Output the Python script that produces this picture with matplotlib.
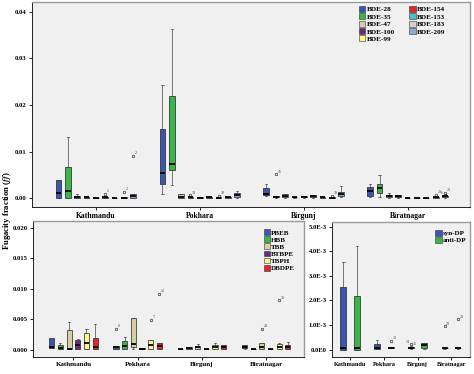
import matplotlib
matplotlib.use("Agg")
import matplotlib.pyplot as plt
from matplotlib.patches import Patch

plt.rcParams["font.family"] = ["Liberation Serif", "DejaVu Serif"]
plt.rcParams["font.weight"] = "bold"
plt.rcParams["mathtext.fontset"] = "stix"

SITES = ["Kathmandu", "Pokhara", "Birgunj", "Biratnagar"]

# five-number summaries per site: (whisker low, q1, median, q3, whisker high)
PBDE_NAMES = ["BDE-28", "BDE-35", "BDE-47", "BDE-100", "BDE-99",
              "BDE-154", "BDE-153", "BDE-183", "BDE-209"]
BDE28 = [(0, 0, 0.0012, 0.0040, 0.0040), (0.0010, 0.0031, 0.0054, 0.0149, 0.0242),
         (0.0005, 0.0006, 0.0008, 0.0021, 0.0031), (0.0003, 0.0004, 0.0015, 0.0024, 0.0030)]
BDE35 = [(0, 0.0001, 0.0016, 0.0066, 0.0132), (0.0029, 0.0061, 0.0073, 0.0219, 0.0363),
         (0.0001, 0.0002, 0.0003, 0.0004, 0.0004), (0.0003, 0.0011, 0.0021, 0.0031, 0.0050)]
BDE47 = [(0, 0.0001, 0.0002, 0.0005, 0.0008), (0, 0.0001, 0.0003, 0.0008, 0.0009),
         (0.0001, 0.0002, 0.0004, 0.0008, 0.0009), (0, 0.0002, 0.0004, 0.0006, 0.0011)]
BDE100 = [(0, 0.0001, 0.0002, 0.0003, 0.0003), (0, 0.0001, 0.0002, 0.0003, 0.0003),
          (0.0001, 0.0002, 0.0003, 0.0003, 0.0003), (0.0001, 0.0003, 0.0004, 0.0006, 0.0006)]
BDE99 = [(0, 0, 0.0001, 0.0001, 0.0001), (0, 0.0001, 0.0001, 0.0002, 0.0002),
         (0.0001, 0.0002, 0.0003, 0.0004, 0.0004), (0, 0.0001, 0.0001, 0.0001, 0.0001)]
BDE154 = [(0, 0.0001, 0.0002, 0.0003, 0.0003), (0, 0.0001, 0.0002, 0.0003, 0.0003),
          (0.0001, 0.0002, 0.0004, 0.0006, 0.0006), (0, 0.0001, 0.0001, 0.0001, 0.0001)]
BDE153 = [(0, 0, 0.0001, 0.0001, 0.0001), (0, 0, 0.0001, 0.0002, 0.0002),
          (0, 0.0001, 0.0002, 0.0002, 0.0002), (0, 0.0001, 0.0001, 0.0001, 0.0001)]
BDE183 = [(0, 0.0001, 0.0001, 0.0002, 0.0002), (0, 0.0001, 0.0002, 0.0003, 0.0003),
          (0, 0.0001, 0.0001, 0.0002, 0.0002), (0, 0.0001, 0.0002, 0.0003, 0.0003)]
BDE209 = [(0, 0.0001, 0.0004, 0.0009, 0.0009), (0.0001, 0.0003, 0.0006, 0.0012, 0.0015),
          (0.0002, 0.0004, 0.0008, 0.0013, 0.0026), (0.0001, 0.0002, 0.0004, 0.0005, 0.0005)]
# outliers: (site index, compound index, value, case label)
PBDE_OUTLIERS = [(0, 5, 0.0010, "2"), (0, 7, 0.0013, "2"), (0, 8, 0.0091, "2"),
                 (1, 3, 0.0006, "19"), (1, 6, 0.0005, "18"),
                 (2, 1, 0.0051, "16"), (2, 7, 0.0005, "18"),
                 (3, 7, 0.0007, "21"), (3, 8, 0.0006, "6"), (3, 8, 0.0011, "21")]

NBFR_NAMES = ["PBEB", "HBB", "TBB", "BTBPE", "TBPH", "DBDPE"]
PBEB = [(0.0003, 0.0003, 0.0005, 0.0019, 0.0019), (0.0002, 0.0002, 0.0004, 0.0007, 0.0007),
        (0.0001, 0.0001, 0.0002, 0.0002, 0.0002), (0.0002, 0.0003, 0.0005, 0.0008, 0.0008)]
HBB = [(0.0001, 0.0001, 0.0003, 0.0008, 0.0011), (0.0002, 0.0002, 0.0007, 0.0014, 0.0021),
       (0.0001, 0.0002, 0.0003, 0.0005, 0.0005), (0.0001, 0.0001, 0.0002, 0.0002, 0.0002)]
TBB = [(0.0001, 0.0001, 0.0001, 0.0032, 0.0046), (0.0001, 0.0004, 0.0009, 0.0052, 0.0052),
       (0.0001, 0.0002, 0.0004, 0.0007, 0.0010), (0.0001, 0.0002, 0.0005, 0.0012, 0.0012)]
BTBPE = [(0.0001, 0.0001, 0.0008, 0.0016, 0.0017), (0.0001, 0.0001, 0.0002, 0.0003, 0.0003),
         (0.0001, 0.0001, 0.0002, 0.0002, 0.0002), (0.0001, 0.0001, 0.0002, 0.0002, 0.0002)]
TBPH = [(0.0001, 0.0001, 0.0012, 0.0028, 0.0034), (0.0001, 0.0002, 0.0008, 0.0016, 0.0016),
        (0.0002, 0.0002, 0.0004, 0.0008, 0.0012), (0.0001, 0.0002, 0.0005, 0.0009, 0.0011)]
DBDPE = [(0.0001, 0.0001, 0.0005, 0.0020, 0.0043), (0.0002, 0.0002, 0.0006, 0.0012, 0.0012),
         (0.0001, 0.0002, 0.0005, 0.0008, 0.0008), (0.0001, 0.0001, 0.0004, 0.0008, 0.0013)]
NBFR_OUTLIERS = [(1, 0, 0.0034, "8"), (1, 4, 0.0049, "7"), (1, 5, 0.0092, "12"),
                 (3, 2, 0.0034, "29"), (3, 4, 0.0081, "28")]

DP_NAMES = ["syn-DP", "anti-DP"]
SYN_DP = [(0, 0, 0.00006, 0.00254, 0.00358), (0.00003, 0.00003, 0.00007, 0.00021, 0.00040),
          (0.00004, 0.00005, 0.00008, 0.00010, 0.00010), (0.00004, 0.00005, 0.00007, 0.00008, 0.00008)]
ANTI_DP = [(0, 0, 0.00006, 0.00219, 0.00420), (0.00005, 0.00006, 0.00008, 0.00010, 0.00010),
           (0.00003, 0.00006, 0.00018, 0.00027, 0.00028), (0.00004, 0.00005, 0.00007, 0.00008, 0.00008)]
DP_OUTLIERS = [(1, 1, 0.00035, "13"), (2, 0, 0.00022, "14"), (2, 0, 0.00012, "15"),
               (3, 0, 0.00095, "20"), (3, 1, 0.00123, "21")]
# case labels drawn on the left of their marker
LEFT_LABELS = {"6", "14"}

PALETTE = ["#3D55AE", "#3AB54A", "#D6CFA3", "#6A2A7C", "#FBF98C",
           "#E3262D", "#4CBFC3", "#D2D2D2", "#8EAAD3"]
BG = "#F0F0F0"


def draw_group(ax, series, names, outliers, step, width, fs_leg, legend_anchor):
    n = len(series)
    for k, stats_list in enumerate(series):
        stats = []
        for lo, q1, med, q3, hi in stats_list:
            stats.append({"whislo": lo, "q1": q1, "med": med, "q3": q3,
                          "whishi": hi, "fliers": []})
        pos = [i + (k - (n - 1) / 2) * step for i in range(len(stats_list))]
        ax.bxp(stats, positions=pos, widths=width, patch_artist=True,
               showfliers=False, manage_ticks=False,
               boxprops=dict(facecolor=PALETTE[k], edgecolor="#222222", linewidth=0.5),
               medianprops=dict(color="black", linewidth=1.3),
               whiskerprops=dict(color="#444444", linewidth=0.5),
               capprops=dict(color="#444444", linewidth=0.5),
               capwidths=width * 0.4)
    for site, k, val, lab in outliers:
        x = site + (k - (n - 1) / 2) * step
        ax.plot(x, val, marker="o", ms=1.8, mfc="none", mec="#333333", mew=0.5)
        if lab in LEFT_LABELS:
            off, ha = (-1.2, 1.0), "right"
        else:
            off, ha = (1.2, 1.2), "left"
        ax.annotate(lab, (x, val), xytext=off, textcoords="offset points", ha=ha,
                    fontsize=3, color="#444444", fontweight="normal")
    handles = [Patch(facecolor=PALETTE[k], edgecolor="#333333", linewidth=0.4, label=names[k])
               for k in range(n)]
    ax.legend(handles=handles, ncol=2 if n > 6 else 1, loc="upper left",
              bbox_to_anchor=legend_anchor, frameon=False, fontsize=fs_leg,
              handlelength=0.9, handleheight=0.9, handletextpad=0.15,
              labelspacing=0.12, columnspacing=2.0, borderaxespad=0)


def style_axis(ax, xlim, ylim, yticks, ylabels, xfs=5.5):
    ax.set_facecolor(BG)
    ax.set_xlim(*xlim)
    ax.set_ylim(*ylim)
    ax.set_xticks(range(len(SITES)))
    ax.set_xticklabels(SITES, fontsize=xfs, fontweight="bold")
    ax.set_yticks(yticks)
    ax.set_yticklabels(ylabels, fontsize=4.8, fontweight="bold")
    ax.tick_params(axis="both", length=2.5, width=0.6, pad=1.2, direction="out")
    for side in ["top", "right"]:
        ax.spines[side].set_color("#9A9A9A")
        ax.spines[side].set_linewidth(1.0)
    for side in ["left", "bottom"]:
        ax.spines[side].set_color("#222222")
        ax.spines[side].set_linewidth(0.7)


fig = plt.figure(figsize=(4.74, 3.74), dpi=100)
fig.patch.set_facecolor("white")

ax_top = fig.add_axes([0.0675, 0.4465, 0.924, 0.548])
draw_group(ax_top, [BDE28, BDE35, BDE47, BDE100, BDE99, BDE154, BDE153, BDE183, BDE209],
           PBDE_NAMES, PBDE_OUTLIERS, step=0.09, width=0.055, fs_leg=5.2,
           legend_anchor=(0.74, 0.995))
style_axis(ax_top, (-0.615, 3.6), (-0.0019, 0.0421),
           [0, 0.01, 0.02, 0.03, 0.04], ["0.00", "0.01", "0.02", "0.03", "0.04"])

ax_bl = fig.add_axes([0.0696, 0.045, 0.572, 0.364])
draw_group(ax_bl, [PBEB, HBB, TBB, BTBPE, TBPH, DBDPE],
           NBFR_NAMES, NBFR_OUTLIERS, step=0.135, width=0.08, fs_leg=5.0,
           legend_anchor=(0.84, 0.96))
style_axis(ax_bl, (-0.63, 3.59), (-0.0012, 0.0211),
           [0, 0.005, 0.01, 0.015, 0.02], ["0.000", "0.005", "0.010", "0.015", "0.020"],
           xfs=5.0)

ax_br = fig.add_axes([0.7004, 0.045, 0.291, 0.362])
draw_group(ax_br, [SYN_DP, ANTI_DP], DP_NAMES, DP_OUTLIERS,
           step=0.4, width=0.18, fs_leg=5.0, legend_anchor=(0.73, 0.96))
style_axis(ax_br, (-0.54, 3.55), (-0.00031, 0.0052),
           [0, 0.001, 0.002, 0.003, 0.004, 0.005],
           ["0.0E0", "1.0E-3", "2.0E-3", "3.0E-3", "4.0E-3", "5.0E-3"], xfs=4.5)

fig.text(0.014, 0.436, r"Fugacity fraction ($\mathit{ff}$)", rotation=90,
         fontsize=6.2, fontweight="bold", ha="center", va="center")

fig.savefig("out.png", dpi=100, facecolor="white")
